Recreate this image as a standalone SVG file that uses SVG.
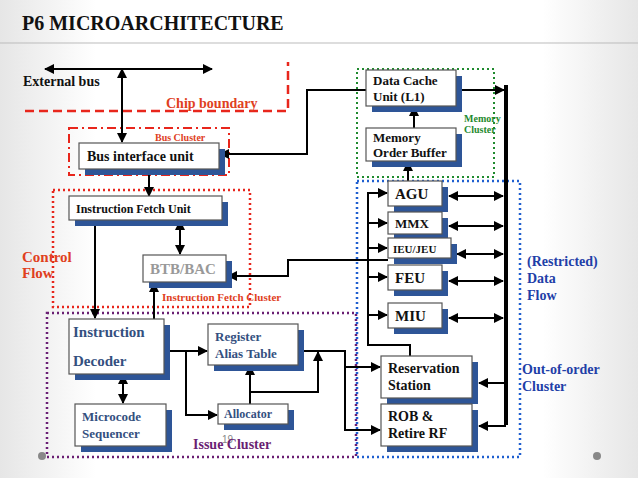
<svg xmlns="http://www.w3.org/2000/svg" width="638" height="478" viewBox="0 0 638 478">
<defs>
<marker id="a" viewBox="0 0 10 10" refX="9" refY="5" markerWidth="5" markerHeight="5" orient="auto-start-reverse"><path d="M0,0L10,5L0,10z" fill="#000"/></marker>
<linearGradient id="bg" x1="0" x2="1"><stop offset="0" stop-color="#e6e6e6"/><stop offset="0.15" stop-color="#fff"/><stop offset="0.85" stop-color="#fff"/><stop offset="1" stop-color="#e6e6e6"/></linearGradient>
</defs>
<style>
.b{fill:#fff;stroke:#555;stroke-width:1.2}
.s{fill:#2e5597}
.t{font-family:"Liberation Serif",serif;font-weight:bold;fill:#111}
.tb{font-family:"Liberation Serif",serif;font-weight:bold;fill:#34507f}
.l{stroke:#000;stroke-width:2;fill:none}
.red{font-family:"Liberation Serif",serif;font-weight:bold;fill:#e0401e}
.blue{font-family:"Liberation Serif",serif;font-weight:bold;fill:#1f3fa8}
</style>
<rect width="638" height="478" fill="url(#bg)"/>
<text x="22" y="30" class="t" font-size="20">P6 MICROARCHITECTURE</text>
<line x1="0" y1="43" x2="638" y2="43" stroke="#bbb" stroke-width="1"/>
<g id="clusters" fill="none">
<path d="M25,111H288V62" stroke="#e8261c" stroke-width="2.5" stroke-dasharray="9,5"/>
<rect x="69" y="128" width="160" height="47" stroke="#e8261c" stroke-width="2" stroke-dasharray="9,4,2,4"/>
<rect x="53" y="190" width="197" height="117" stroke="#e8261c" stroke-width="2.5" stroke-dasharray="2,3"/>
<rect x="47" y="313" width="309" height="144" stroke="#6a1f73" stroke-width="2.5" stroke-dasharray="2,3"/>
<rect x="357" y="181" width="163" height="276" stroke="#1f5fd0" stroke-width="2.5" stroke-dasharray="2,3"/>
<rect x="357" y="69" width="137" height="108" stroke="#1f8a2e" stroke-width="2" stroke-dasharray="2,3"/>
</g>
<g id="labels">
<text x="23" y="86" class="t" font-size="14">External bus</text>
<text x="166" y="108" class="red" font-size="14">Chip boundary</text>
<text x="155" y="141" class="red" font-size="10">Bus Cluster</text>
<text x="162" y="301" class="red" font-size="11">Instruction Fetch Cluster</text>
<text x="22" y="262" class="red" font-size="15">Control</text>
<text x="22" y="278" class="red" font-size="15">Flow</text>
<text x="222" y="443" font-family="Liberation Sans,sans-serif" font-size="10" fill="#888">19</text>
<text x="193" y="449" font-family="Liberation Serif,serif" font-weight="bold" font-size="14" fill="#6a1f73">Issue Cluster</text>
<text x="464" y="122" font-family="Liberation Serif,serif" font-weight="bold" font-size="10" fill="#1f8a2e">Memory</text>
<text x="464" y="133" font-family="Liberation Serif,serif" font-weight="bold" font-size="10" fill="#1f8a2e">Cluster</text>
<text x="527" y="266" class="blue" font-size="14">(Restricted)</text>
<text x="527" y="283" class="blue" font-size="14">Data</text>
<text x="527" y="300" class="blue" font-size="14">Flow</text>
<text x="522" y="374" class="blue" font-size="14">Out-of-order</text>
<text x="522" y="391" class="blue" font-size="14">Cluster</text>
</g>
<g id="connectors" marker-end="url(#a)">
<line x1="45" y1="69" x2="212" y2="69" class="l" marker-start="url(#a)"/>
<line x1="122" y1="69" x2="122" y2="142" class="l" stroke-width="1.5" marker-start="url(#a)" marker-end="url(#a)"/>
<path d="M366,90H307V154H220" class="l"/>
<line x1="149" y1="169" x2="149" y2="196" class="l"/>
<line x1="180" y1="221" x2="180" y2="254" class="l" marker-start="url(#a)"/>
<path d="M388,260H288V276H228" class="l"/>
<line x1="154" y1="320" x2="154" y2="283" class="l"/>
<line x1="95" y1="220" x2="95" y2="318" class="l"/>
<line x1="123" y1="375" x2="123" y2="403" class="l" marker-start="url(#a)"/>
<line x1="164" y1="351" x2="207" y2="351" class="l"/>
<path d="M186,351V415H217" class="l"/>
<line x1="250" y1="404" x2="250" y2="366" class="l"/>
<path d="M250,392H318V352" class="l"/>
<path d="M298,351H345V430H380" class="l" stroke-width="2.5"/>
<path d="M345,367H380" class="l"/>
<line x1="414" y1="128" x2="414" y2="107" class="l" stroke-width="1"/>
<line x1="408" y1="181" x2="408" y2="162" class="l" stroke-width="1"/>
<line x1="456" y1="90" x2="504" y2="90" class="l"/>
<path d="M410,356V345H368V192" class="l" marker-end="none"/>
<line x1="368" y1="193" x2="387" y2="193" class="l"/>
<line x1="368" y1="223" x2="387" y2="223" class="l"/>
<line x1="368" y1="248" x2="387" y2="248" class="l"/>
<line x1="368" y1="277" x2="387" y2="277" class="l"/>
<line x1="368" y1="315" x2="387" y2="315" class="l"/>
<line x1="449" y1="196" x2="503" y2="196" class="l" marker-start="url(#a)"/>
<line x1="449" y1="226" x2="503" y2="226" class="l" marker-start="url(#a)"/>
<line x1="457" y1="254" x2="503" y2="254" class="l" marker-start="url(#a)"/>
<line x1="449" y1="281" x2="503" y2="281" class="l" marker-start="url(#a)"/>
<line x1="449" y1="318" x2="503" y2="318" class="l" marker-start="url(#a)"/>
<line x1="506" y1="383" x2="479" y2="383" class="l"/>
<line x1="506" y1="426" x2="479" y2="426" class="l"/>
<line x1="506" y1="85" x2="506" y2="425" stroke="#000" stroke-width="4" marker-end="none"/>
</g>
<g id="biu"><rect x="85" y="149" width="140" height="26" class="s"/><rect x="79" y="143" width="140" height="26" class="b"/><text x="87" y="161" class="t" font-size="14">Bus interface unit</text></g>
<g id="ifu"><rect x="75" y="202" width="153" height="24" class="s"/><rect x="69" y="196" width="153" height="24" class="b"/><text x="76" y="213" class="t" font-size="12">Instruction Fetch Unit</text></g>
<g id="btb"><rect x="149" y="261" width="83" height="27" class="s"/><rect x="143" y="255" width="83" height="27" class="b"/><text x="150" y="274" font-family="Liberation Serif,serif" font-weight="bold" font-size="15" fill="#999">BTB/BAC</text></g>
<g id="id"><rect x="75" y="325" width="95" height="55" class="s"/><rect x="69" y="319" width="95" height="55" class="b"/><text x="73" y="337" class="tb" font-size="15">Instruction</text><text x="73" y="366" class="tb" font-size="15">Decoder</text></g>
<g id="ms"><rect x="81" y="410" width="91" height="42" class="s"/><rect x="75" y="404" width="91" height="42" class="b"/><text x="82" y="421" class="tb" font-size="13">Microcode</text><text x="82" y="438" class="tb" font-size="13">Sequencer</text></g>
<g id="rat"><rect x="214" y="330" width="90" height="41" class="s"/><rect x="208" y="324" width="90" height="41" class="b"/><text x="215" y="341" class="tb" font-size="13">Register</text><text x="215" y="358" class="tb" font-size="13">Alias Table</text></g>
<g id="alloc"><rect x="224" y="410" width="70" height="20" class="s"/><rect x="218" y="404" width="70" height="20" class="b"/><text x="224" y="418" class="tb" font-size="12">Allocator</text></g>
<g id="dcu"><rect x="372" y="76" width="90" height="36" class="s"/><rect x="366" y="70" width="90" height="36" class="b"/><text x="373" y="85" class="t" font-size="13">Data Cache</text><text x="373" y="101" class="t" font-size="13">Unit (L1)</text></g>
<g id="mob"><rect x="372" y="134" width="90" height="33" class="s"/><rect x="366" y="128" width="90" height="33" class="b"/><text x="373" y="142" class="t" font-size="13">Memory</text><text x="373" y="157" class="t" font-size="13">Order Buffer</text></g>
<g id="agu"><rect x="394" y="187" width="54" height="25" class="s"/><rect x="388" y="181" width="54" height="25" class="b"/><text x="395" y="199" class="t" font-size="15">AGU</text></g>
<g id="mmx"><rect x="394" y="218" width="54" height="22" class="s"/><rect x="388" y="212" width="54" height="22" class="b"/><text x="395" y="228" class="t" font-size="13">MMX</text></g>
<g id="ieu"><rect x="394" y="244" width="63" height="20" class="s"/><rect x="388" y="238" width="63" height="20" class="b"/><text x="393" y="253" class="t" font-size="11">IEU/JEU</text></g>
<g id="feu"><rect x="394" y="271" width="54" height="25" class="s"/><rect x="388" y="265" width="54" height="25" class="b"/><text x="395" y="283" class="t" font-size="15">FEU</text></g>
<g id="miu"><rect x="394" y="309" width="54" height="25" class="s"/><rect x="388" y="303" width="54" height="25" class="b"/><text x="395" y="321" class="t" font-size="15">MIU</text></g>
<g id="rs"><rect x="387" y="362" width="91" height="42" class="s"/><rect x="381" y="356" width="91" height="42" class="b"/><text x="388" y="373" class="t" font-size="14">Reservation</text><text x="388" y="390" class="t" font-size="14">Station</text></g>
<g id="rob"><rect x="387" y="410" width="91" height="42" class="s"/><rect x="381" y="404" width="91" height="42" class="b"/><text x="388" y="421" class="t" font-size="14">ROB &amp;</text><text x="388" y="438" class="t" font-size="14">Retire RF</text></g>
<circle cx="42" cy="456" r="4" fill="#888"/><circle cx="597" cy="456" r="4" fill="#888"/>
</svg>
